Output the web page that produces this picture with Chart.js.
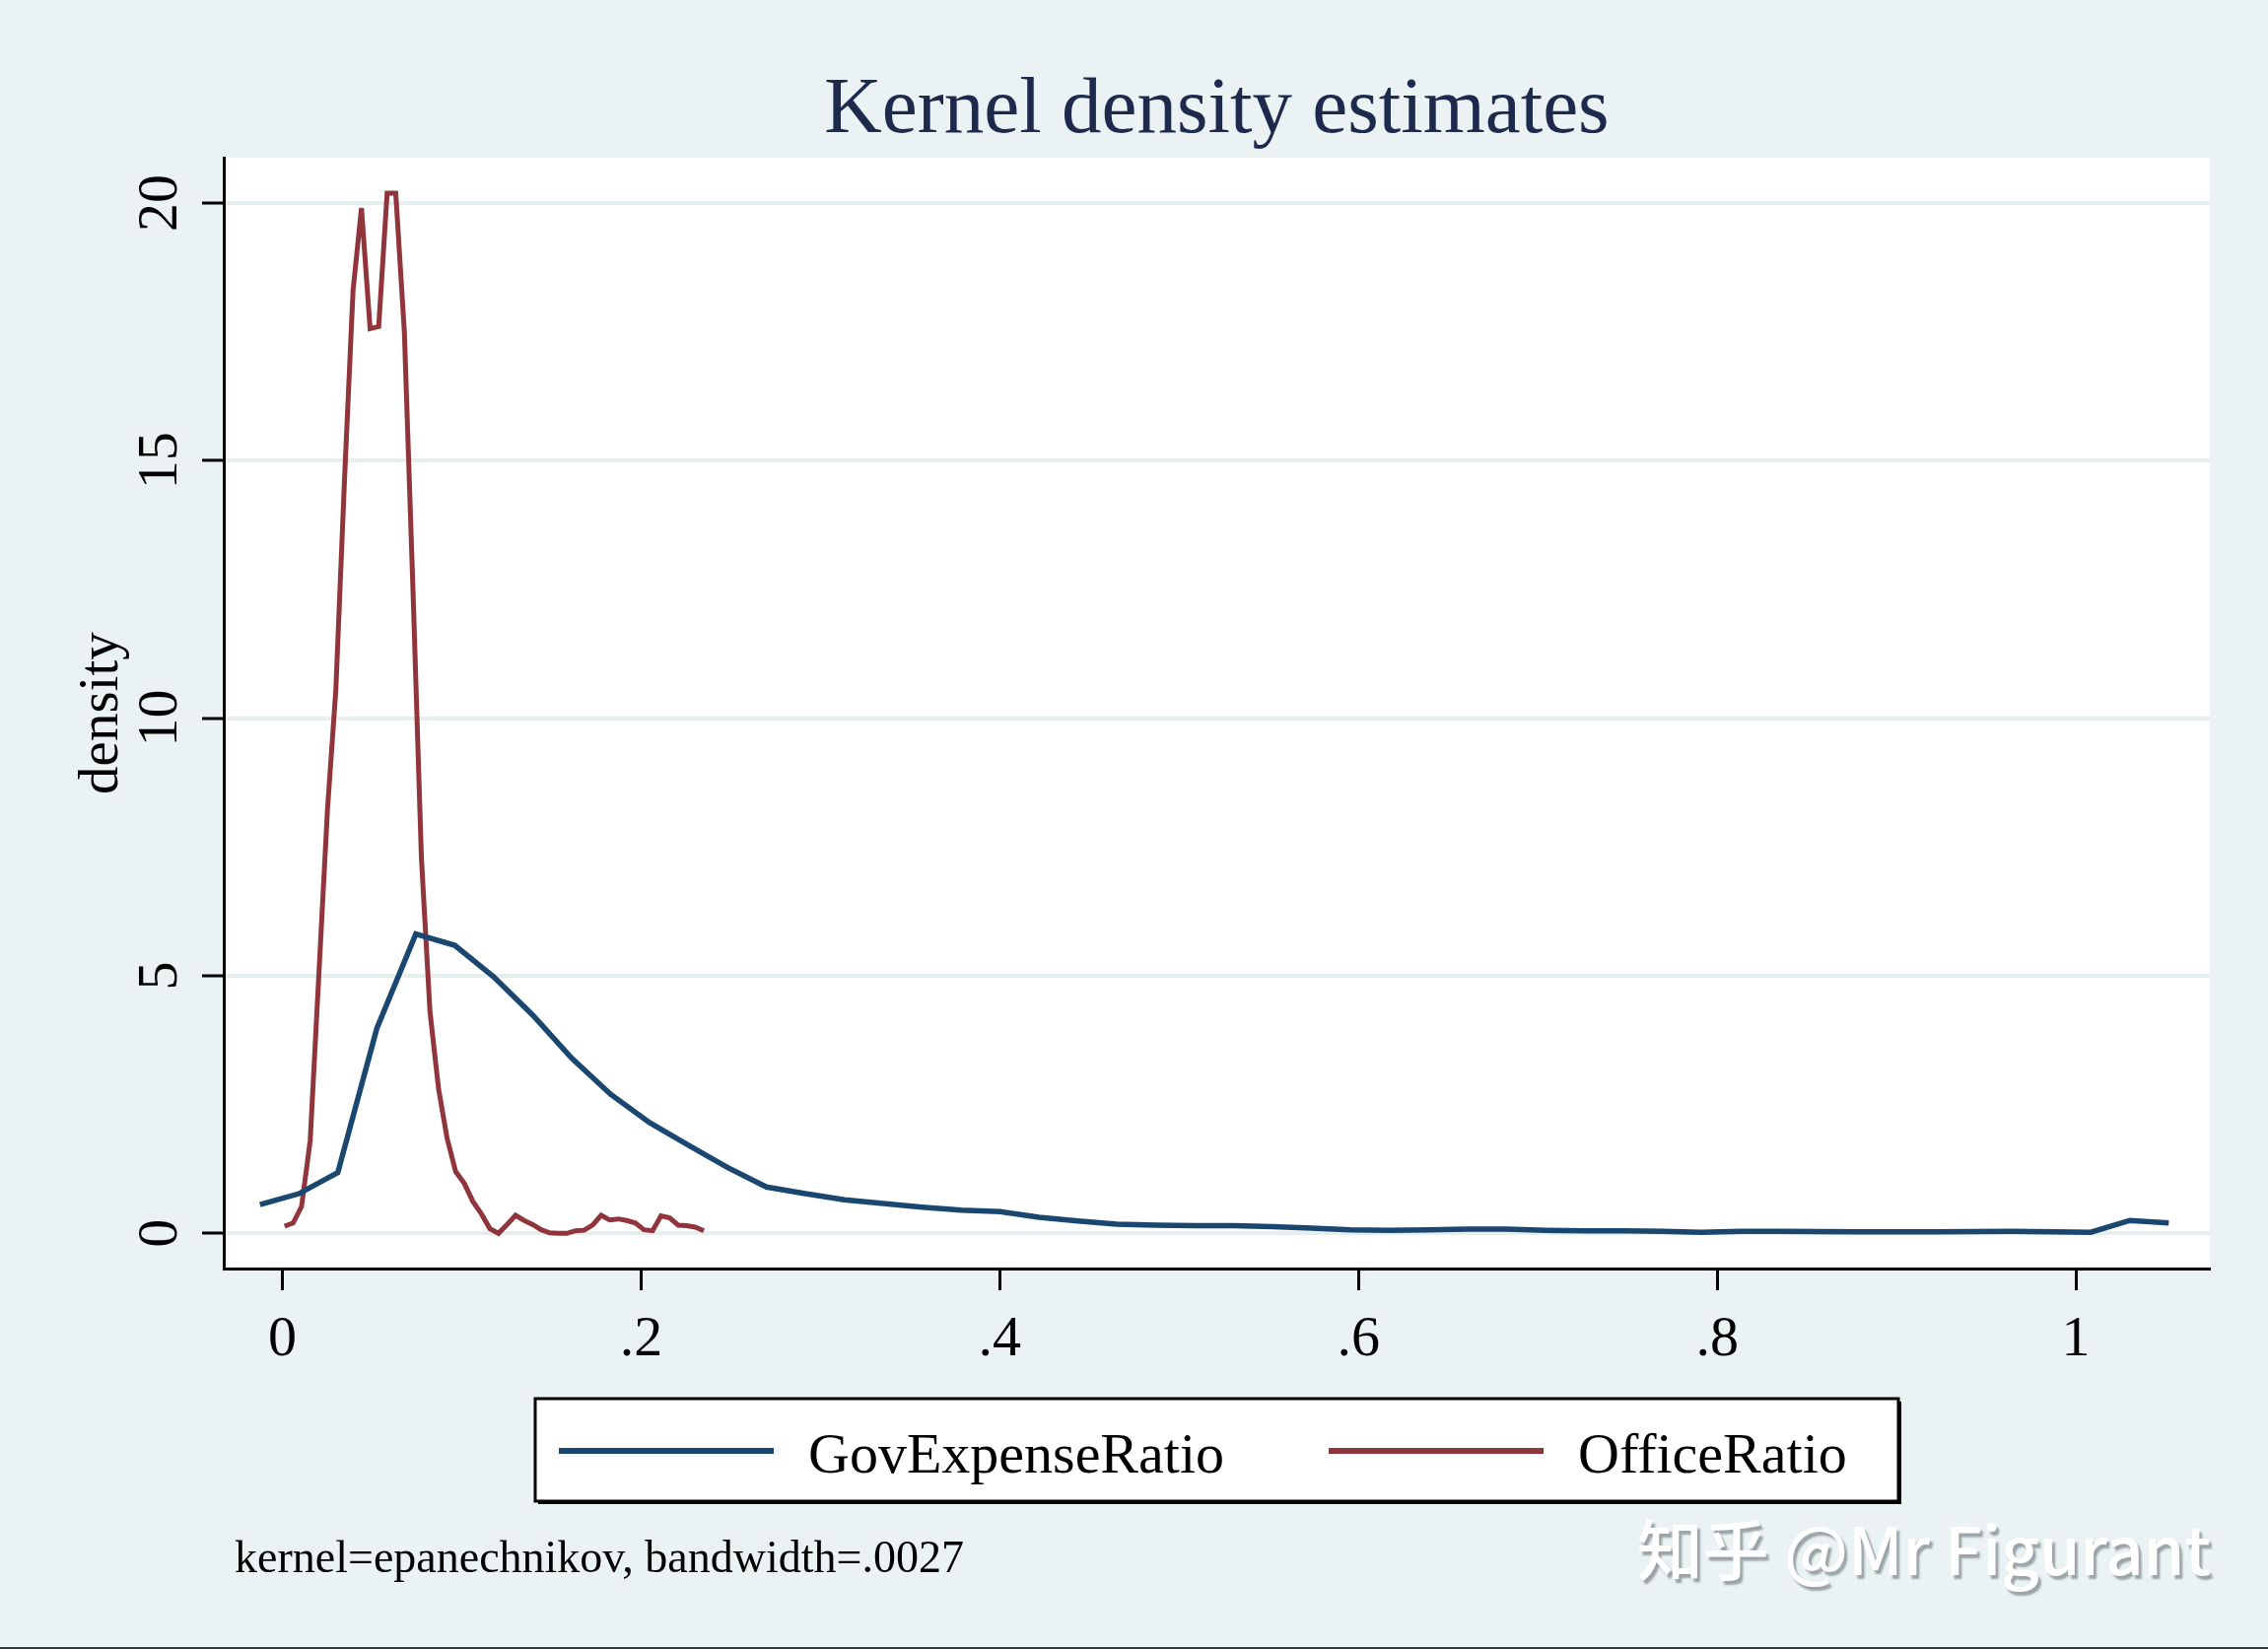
<!DOCTYPE html>
<html>
<head>
<meta charset="utf-8">
<script src="https://cdn.jsdelivr.net/npm/chart.js@4.4.1/dist/chart.umd.min.js"></script>
<style>
  html, body { margin: 0; padding: 0; background: #EAF2F3; }
  canvas { display: block; }
</style>
</head>
<body>
<canvas id="c" width="2301" height="1673"></canvas>
<script>
const titleText = "Kernel density estimates";
const yAxisTitle = "density";
const noteText = "kernel=epanechnikov, bandwidth=.0027";
const watermarkText = "知乎 @Mr Figurant";
const seriesNames = ["GovExpenseRatio", "OfficeRatio"];

const xTicks = [0, 0.2, 0.4, 0.6, 0.8, 1];
const xTickLabels = ["0", ".2", ".4", ".6", ".8", "1"];
const yTicks = [0, 5, 10, 15, 20];
const yTickLabels = ["0", "5", "10", "15", "20"];

const govX = [-0.0125, 0.0092, 0.0309, 0.0527, 0.0744, 0.0961, 0.1178, 0.1395, 0.1613, 0.1830,
  0.2047, 0.2264, 0.2481, 0.2699, 0.2916, 0.3133, 0.3350, 0.3567, 0.3785, 0.4002,
  0.4219, 0.4436, 0.4653, 0.4871, 0.5088, 0.5305, 0.5522, 0.5739, 0.5957, 0.6174,
  0.6391, 0.6608, 0.6825, 0.7043, 0.7260, 0.7477, 0.7694, 0.7911, 0.8129, 0.8346,
  0.8563, 0.8780, 0.8997, 0.9215, 0.9432, 0.9649, 0.9866, 1.0083, 1.0301, 1.0518];
const govY = [0.56, 0.77, 1.18, 3.98, 5.81, 5.59, 4.98, 4.24, 3.40, 2.70,
  2.15, 1.71, 1.28, 0.90, 0.77, 0.65, 0.58, 0.51, 0.45, 0.42,
  0.31, 0.24, 0.18, 0.16, 0.15, 0.15, 0.13, 0.10, 0.07, 0.06,
  0.07, 0.08, 0.08, 0.06, 0.05, 0.05, 0.04, 0.02, 0.04, 0.04,
  0.035, 0.03, 0.03, 0.03, 0.035, 0.04, 0.03, 0.02, 0.25, 0.20];

const offX = [0.0012, 0.0060, 0.0107, 0.0155, 0.0203, 0.0251, 0.0298, 0.0346, 0.0394, 0.0441,
  0.0489, 0.0537, 0.0584, 0.0632, 0.0680, 0.0728, 0.0775, 0.0823, 0.0871, 0.0918,
  0.0966, 0.1014, 0.1062, 0.1109, 0.1157, 0.1205, 0.1252, 0.1300, 0.1348, 0.1396,
  0.1443, 0.1491, 0.1539, 0.1586, 0.1634, 0.1682, 0.1730, 0.1777, 0.1825, 0.1873,
  0.1920, 0.1968, 0.2016, 0.2064, 0.2111, 0.2159, 0.2207, 0.2254, 0.2302, 0.2350];
const offY = [0.14, 0.20, 0.52, 1.8, 5.0, 8.2, 10.55, 14.6, 18.3, 19.9,
  17.56, 17.6, 20.19, 20.19, 17.5, 12.5, 7.3, 4.3, 2.8, 1.85,
  1.2, 0.97, 0.62, 0.38, 0.09, 0.0, 0.17, 0.35, 0.25, 0.17,
  0.07, 0.01, 0.0, 0.0, 0.05, 0.06, 0.16, 0.35, 0.26, 0.28,
  0.25, 0.2, 0.07, 0.05, 0.34, 0.30, 0.16, 0.15, 0.12, 0.05];

const BG = "#EAF2F3";
const SERIF = "'Liberation Serif', 'Times New Roman', serif";

const decor = {
  id: "decor",
  beforeDraw(chart) {
    const ctx = chart.ctx, a = chart.chartArea;
    ctx.save();
    ctx.fillStyle = BG;
    ctx.fillRect(0, 0, chart.width, chart.height);
    ctx.fillStyle = "#ffffff";
    ctx.fillRect(a.left, a.top, a.right - a.left, a.bottom - a.top);
    ctx.restore();
  },
  afterDraw(chart) {
    const ctx = chart.ctx, a = chart.chartArea;
    ctx.save();
    // legend
    const cx = (a.left + a.right) / 2;
    const boxL = Math.round(cx - 692), boxT = 1419, boxW = 1383, boxH = 104;
    ctx.fillStyle = "#ffffff";
    ctx.fillRect(boxL, boxT, boxW, boxH);
    ctx.fillStyle = "#000";
    ctx.fillRect(boxL + 3, boxT + boxH, boxW, 3);
    ctx.fillRect(boxL + boxW, boxT + 3, 3, boxH);
    ctx.strokeStyle = "#000";
    ctx.lineWidth = 3;
    ctx.strokeRect(boxL, boxT, boxW, boxH);
    ctx.font = "58px " + SERIF;
    ctx.textBaseline = "alphabetic";
    ctx.textAlign = "left";
    let x = boxL + 24;
    const lineY = 1472, textY = 1494;
    chart.data.datasets.forEach((ds, i) => {
      ctx.strokeStyle = ds.borderColor;
      ctx.lineWidth = 6;
      ctx.beginPath();
      ctx.moveTo(x, lineY);
      ctx.lineTo(x + 218, lineY);
      ctx.stroke();
      x += 218 + 35;
      ctx.fillStyle = "#000";
      ctx.fillText(ds.label, x, textY);
      x += ctx.measureText(ds.label).width + 106;
    });
    // note
    ctx.font = "46px " + SERIF;
    ctx.fillStyle = "#000";
    ctx.fillText(noteText, 238, 1595);
    // watermark
    ctx.font = "500 67px 'Noto Sans CJK SC', 'Noto Sans', sans-serif";
    ctx.textAlign = "right";
    ctx.shadowColor = "rgba(90,100,105,0.55)";
    ctx.shadowOffsetX = 3;
    ctx.shadowOffsetY = 4;
    ctx.shadowBlur = 2;
    ctx.fillStyle = "#ffffff";
    ctx.fillText(watermarkText, 2243, 1598);
    ctx.shadowColor = "transparent";
    // bottom frame line
    ctx.fillStyle = "#2e3b3c";
    ctx.fillRect(0, chart.height - 2, chart.width, 2);
    ctx.restore();
  }
};

const chart = new Chart(document.getElementById("c"), {
  type: "line",
  data: {
    datasets: [
      {
        label: seriesNames[0],
        data: govX.map((v, i) => ({ x: v, y: govY[i] })),
        borderColor: "#1A476F",
        borderWidth: 5.5,
        pointRadius: 0,
        tension: 0,
        fill: false
      },
      {
        label: seriesNames[1],
        data: offX.map((v, i) => ({ x: v, y: offY[i] })),
        borderColor: "#90353B",
        borderWidth: 5,
        pointRadius: 0,
        tension: 0,
        fill: false
      }
    ]
  },
  options: {
    responsive: false,
    devicePixelRatio: 1,
    animation: false,
    layout: { padding: { left: 0, right: 59, top: 0, bottom: 0 } },
    plugins: {
      legend: { display: false },
      tooltip: { enabled: false },
      title: {
        display: true,
        text: titleText,
        fullSize: false,
        color: "#1d2a4e",
        font: { family: SERIF, size: 81, weight: "normal", lineHeight: 1.1 },
        padding: { top: 68, bottom: 3 }
      }
    },
    scales: {
      x: {
        type: "linear",
        min: -0.0327,
        max: 1.0747,
        afterBuildTicks: s => { s.ticks = xTicks.map(v => ({ value: v })); },
        afterFit: s => { s.height = 386; },
        ticks: {
          callback: (v, i) => xTickLabels[i],
          autoSkip: false,
          minRotation: 0,
          maxRotation: 0,
          padding: 16,
          color: "#000",
          font: { family: SERIF, size: 58 }
        },
        grid: {
          drawOnChartArea: false,
          drawTicks: true,
          tickLength: 22,
          tickWidth: 3,
          tickColor: "#000",
          color: "#000"
        },
        border: { display: true, color: "#000", width: 3 }
      },
      y: {
        type: "linear",
        min: -0.683,
        max: 20.876,
        afterBuildTicks: s => { s.ticks = yTicks.map(v => ({ value: v })); },
        afterFit: s => { s.width = 227; },
        ticks: {
          callback: (v, i) => yTickLabels[i],
          autoSkip: false,
          minRotation: 90,
          maxRotation: 90,
          crossAlign: "center",
          padding: 12,
          color: "#000",
          font: { family: SERIF, size: 58 }
        },
        grid: {
          color: "#E6EEF0",
          lineWidth: 4,
          drawTicks: true,
          tickLength: 22,
          tickWidth: 3,
          tickColor: "#000"
        },
        border: { display: true, color: "#000", width: 3 },
        title: {
          display: true,
          text: yAxisTitle,
          color: "#000",
          font: { family: SERIF, size: 57 },
          padding: { top: 70, bottom: 0 }
        }
      }
    }
  },
  plugins: [decor]
});
</script>
</body>
</html>
